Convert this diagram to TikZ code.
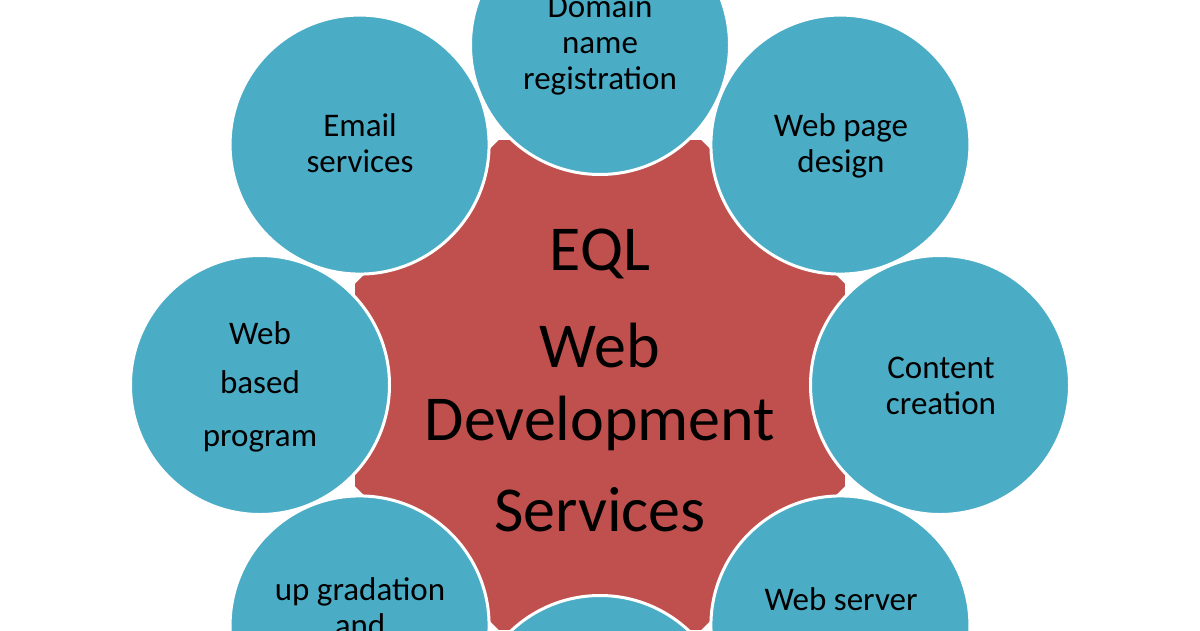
\documentclass[tikz,border=0pt]{standalone}
\usepackage{fontspec}
\setmainfont{Carlito}
\usetikzlibrary{calc}
\definecolor{hubred}{HTML}{C0504D}
\definecolor{satblue}{HTML}{4BACC6}
\begin{document}
\begin{tikzpicture}[x=1pt,y=-1pt,
  sat/.style={circle, fill=satblue, draw=white, line width=3pt, minimum size=259pt, inner sep=0pt},
  hubfill/.style={fill=hubred},
  small/.style={anchor=base, inner sep=0pt, font=\fontsize{33}{36}\selectfont},
  big/.style={anchor=base, inner sep=0pt, font=\fontsize{64}{73}\selectfont}]
\useasboundingbox (0,0) rectangle (1200,630);
\fill[white] (0,0) rectangle (1200,630);
\clip (0,0) rectangle (1200,630);
\coordinate (hub) at (600,385);
\fill[hubfill] (hub) +(22.5:265) -- +(67.5:265) -- +(112.5:265) -- +(157.5:265)
  -- +(202.5:265) -- +(247.5:265) -- +(292.5:265) -- +(337.5:265) -- cycle;
% satellites
\node[sat] (c1) at ($(hub)+(90:340)$) {};
\node[sat] (c2) at ($(hub)+(45:340)$) {};
\node[sat] (c3) at ($(hub)+(0:340)$) {};
\node[sat] (c4) at ($(hub)+(-45:340)$) {};
\node[sat] (c5) at ($(hub)+(-90:340)$) {};
\node[sat] (c6) at ($(hub)+(-135:340)$) {};
\node[sat] (c7) at ($(hub)+(180:340)$) {};
\node[sat] (c8) at ($(hub)+(135:340)$) {};
% texts
\node[big] (hubtxt) at (600,270) {\begin{tabular}[t]{@{}c@{}}EQL\\[24pt]Web\\Development\\[18pt]Services\end{tabular}};
\node[small] (t1) at (600,17) {\begin{tabular}[t]{@{}c@{}}Domain\\name\\registration\end{tabular}};
\node[small] (t8) at (360,136) {\begin{tabular}[t]{@{}c@{}}Email\\services\end{tabular}};
\node[small] (t2) at (841,136) {\begin{tabular}[t]{@{}c@{}}Web page\\design\end{tabular}};
\node[small] (t7) at (260,344) {\begin{tabular}[t]{@{}c@{}}Web\\[13pt]based\\[17pt]program\end{tabular}};
\node[small] (t3) at (941,378) {\begin{tabular}[t]{@{}c@{}}Content\\creation\end{tabular}};
\node[small] (t6) at (360,600) {\begin{tabular}[t]{@{}c@{}}up gradation\\and\end{tabular}};
\node[small] (t4) at (841,610) {Web server};
\end{tikzpicture}
\end{document}
